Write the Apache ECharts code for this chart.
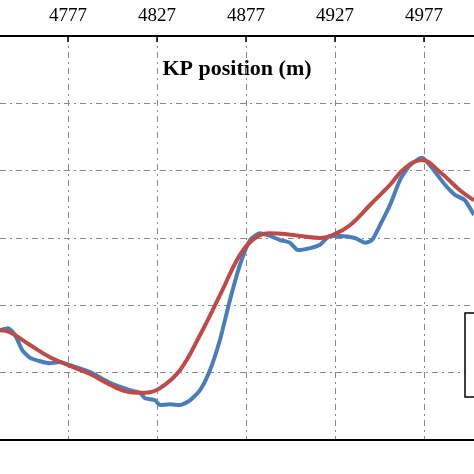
<!DOCTYPE html>
<html>
<head>
<meta charset="utf-8">
<script src="https://cdn.jsdelivr.net/npm/echarts@6/dist/echarts.min.js"></script>
<style>html,body{margin:0;padding:0;background:#fff}#main{width:474px;height:474px}</style>
</head>
<body>
<div id="main"></div>
<script>
// KP position (m) and measured / fitted profile (arbitrary y units)
var kpTicks = [4777, 4827, 4877, 4927, 4977];
var yTicks = [1, 2, 3, 4, 5];

var blueKp = [4738.8, 4743.3, 4747.2, 4751.2, 4755.7, 4761.3, 4766.9, 4772.5, 4778.1, 4789.4, 4800.6, 4811.8, 4817.5, 4820.3, 4825.9, 4828.7, 4834.3, 4840, 4845.5, 4851.2, 4856.8, 4862.4, 4868, 4873.6, 4879.3, 4884.9, 4890.5, 4896.1, 4901.7, 4906.2, 4913, 4918.6, 4924.2, 4929.8, 4938.2, 4943.9, 4947.8, 4952.3, 4957.9, 4963.5, 4969.1, 4975.9, 4981.5, 4988.8, 4994.4, 5000, 5005.1];
var blueVal = [1.63, 1.66, 1.56, 1.34, 1.22, 1.17, 1.14, 1.16, 1.11, 1.01, 0.85, 0.74, 0.70, 0.62, 0.59, 0.52, 0.53, 0.52, 0.59, 0.74, 1.04, 1.49, 2.08, 2.60, 2.97, 3.07, 3.03, 2.97, 2.93, 2.82, 2.85, 2.90, 3.03, 3.03, 3.00, 2.93, 2.97, 3.19, 3.49, 3.86, 4.08, 4.19, 4.04, 3.79, 3.64, 3.56, 3.34];

var redKp = [4738.8, 4744.4, 4755.7, 4766.9, 4778.1, 4789.4, 4800.6, 4811.8, 4820.3, 4828.7, 4840, 4851.2, 4862.4, 4873.6, 4882.1, 4890.5, 4898.9, 4907.3, 4918.6, 4927, 4935.4, 4946.7, 4957.9, 4966.3, 4975.9, 4986, 4997.2, 5005.1];
var redVal = [1.63, 1.60, 1.41, 1.23, 1.10, 0.98, 0.82, 0.71, 0.70, 0.77, 1.04, 1.56, 2.15, 2.75, 3.00, 3.07, 3.06, 3.03, 3.00, 3.06, 3.19, 3.49, 3.79, 4.04, 4.16, 3.98, 3.71, 3.56];

function pairs(xs, ys) {
  return xs.map(function (x, i) { return [x, ys[i]]; });
}

var chart = echarts.init(document.getElementById('main'));
var gridLine = { show: true, lineStyle: { color: '#888', type: [6, 4, 2, 4], width: 1 } };

chart.setOption({
  backgroundColor: '#fff',
  animation: false,
  grid: { left: 0, right: 0, top: 36, bottom: 34 },
  xAxis: {
    type: 'value', position: 'top', min: 4738.8, max: 5005.1,
    axisLine: { show: true, onZero: false, lineStyle: { color: '#000', width: 2 } },
    axisTick: { show: true, inside: true, length: 6, customValues: kpTicks, lineStyle: { color: '#000', width: 1.5 } },
    axisLabel: { customValues: kpTicks, formatter: function (v) { return String(v); },
      color: '#000', fontFamily: 'Liberation Serif', fontSize: 19, margin: 10 },
    splitLine: gridLine
  },
  yAxis: {
    type: 'value', min: 0, max: 6,
    axisLine: { show: false },
    axisTick: { show: false },
    axisLabel: { show: false, customValues: yTicks },
    splitLine: gridLine
  },
  graphic: [
    { type: 'text', left: 'center', top: 58, style: { text: 'KP position (m)', font: 'bold 22px "Liberation Serif"', fill: '#000' } },
    { type: 'line', z: 10, shape: { x1: 0, y1: 36, x2: 474, y2: 36 }, style: { stroke: '#000', lineWidth: 2 } },
    { type: 'line', z: 10, shape: { x1: 0, y1: 440, x2: 474, y2: 440 }, style: { stroke: '#000', lineWidth: 2 } },
    { type: 'rect', z: 10, shape: { x: 465, y: 313, width: 20, height: 84 }, style: { fill: '#fff', stroke: '#000', lineWidth: 1.5 } }
  ],
  series: [
    { name: 'measured', type: 'line', data: pairs(blueKp, blueVal), showSymbol: false, smooth: 0.2,
      lineStyle: { color: '#4a7ebb', width: 4 }, z: 2 },
    { name: 'fitted', type: 'line', data: pairs(redKp, redVal), showSymbol: false, smooth: 0.4,
      lineStyle: { color: '#be4b48', width: 4 }, z: 3 }
  ]
});
</script>
</body>
</html>
